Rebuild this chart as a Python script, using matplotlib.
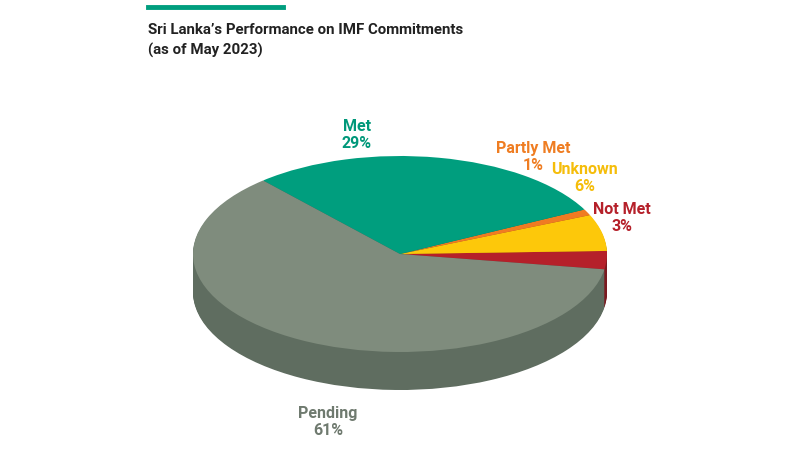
import matplotlib
matplotlib.use("Agg")
import matplotlib.pyplot as plt

labels = ["Not Met", "Unknown", "Partly Met", "Met", "Pending"]
values = [3, 6, 1, 29, 61]
colors = ["#b5202a", "#fdc80a", "#f07b22", "#009e7e", "#7f8c7d"]
side_colors = ["#7a1a20", "#b08a08", "#a85516", "#006b55", "#5f6d60"]
label_pos = {"Met": (357, 135), "Partly Met": (533, 157), "Unknown": (585, 178),
             "Not Met": (622, 218), "Pending": (328, 422)}
label_col = {"Met": "#00987a", "Partly Met": "#ef7d22", "Unknown": "#f5bd0a",
             "Not Met": "#b5202a", "Pending": "#6f7a6f"}

plt.rcParams['font.family'] = ['Roboto', 'DejaVu Sans']
fig = plt.figure(figsize=(8, 4.5), dpi=100)
fig.patch.set_facecolor("white")

cx, cy, rx, ry, depth = 400, 254, 207, 98, 38
ax = fig.add_axes([(cx - rx) / 800, (450 - cy - ry) / 450, 2 * rx / 800, 2 * ry / 450])
start = -9
nl = 40
for i in range(nl, 0, -1):
    off = depth / ry * i / nl
    w, _ = ax.pie(values, colors=side_colors, startangle=start, center=(0, -off),
                  wedgeprops=dict(linewidth=0))
    for p in w:
        p.set_clip_on(False)
w, _ = ax.pie(values, colors=colors, startangle=start, wedgeprops=dict(linewidth=0))
for p in w:
    p.set_clip_on(False)
ax.set_aspect('auto')
ax.set_xlim(-1, 1)
ax.set_ylim(-1, 1)
ax.axis('off')

for lab, v in zip(labels, values):
    x, y = label_pos[lab]
    fig.text(x / 800, 1 - y / 450, f"{lab}\n{v}%", ha='center', va='center',
             color=label_col[lab], fontsize=11.5, fontweight='bold', linespacing=1.2)

fig.add_artist(plt.Line2D([148 / 800, 283 / 800], [1 - 7 / 450] * 2, color="#009e7e", lw=3.5))
fig.text(148 / 800, 1 - 30 / 450, "Sri Lanka’s Performance on IMF Commitments",
         fontsize=10.8, fontweight='bold', color="#222222", va='center')
fig.text(148 / 800, 1 - 50 / 450, "(as of May 2023)",
         fontsize=10.8, fontweight='bold', color="#222222", va='center')

fig.savefig("out.png", dpi=100)
